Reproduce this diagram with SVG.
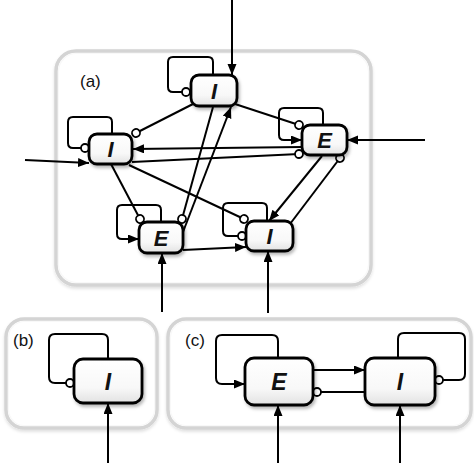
<svg xmlns="http://www.w3.org/2000/svg" width="474" height="463" viewBox="0 0 474 463">
<style>
.panel{fill:#fff;stroke:#d4d4d4;stroke-width:3.5}
.panel2{fill:none;stroke:#f8f8f8;stroke-width:1.2}
.node rect{fill:url(#ng);stroke:#000;stroke-width:2.8;filter:url(#sh)}
.node text{font-family:"Liberation Sans",Arial,sans-serif;font-weight:bold;font-style:italic;text-anchor:middle;fill:#111}
.lbl{font-family:"Liberation Sans",Arial,sans-serif;font-size:17px;fill:#111}
.c{fill:none;stroke:#000;stroke-width:2}
.ex{marker-end:url(#arr)}
.in{marker-end:url(#inh)}
</style>
<defs>
<linearGradient id="ng" x1="0" y1="0" x2="0" y2="1">
<stop offset="0" stop-color="#ffffff"/>
<stop offset="0.65" stop-color="#f8f8f8"/>
<stop offset="1" stop-color="#e2e2e2"/>
</linearGradient>
<filter id="sh" x="-20%" y="-20%" width="150%" height="160%">
<feDropShadow dx="1.5" dy="2.5" stdDeviation="1.8" flood-color="#000" flood-opacity="0.28"/>
</filter>
<filter id="psh" x="-5%" y="-5%" width="110%" height="112%">
<feDropShadow dx="0" dy="2" stdDeviation="1.5" flood-color="#000" flood-opacity="0.12"/>
</filter>
<marker id="arr" markerUnits="userSpaceOnUse" markerWidth="12" markerHeight="10" refX="11" refY="4.5" orient="auto">
<path d="M0,0 L11,4.5 L0,9 z" fill="#000"/>
</marker>
<marker id="inh" markerUnits="userSpaceOnUse" markerWidth="12" markerHeight="12" refX="6" refY="6" orient="auto">
<circle cx="6" cy="6" r="4" fill="#fff" stroke="#000" stroke-width="1.8"/>
</marker>
</defs>

<g id="panels">
<g id="panel-a">
<rect class="panel" x="56" y="51" width="315" height="234" rx="20" filter="url(#psh)"/>
<rect class="panel2" x="58.5" y="53.5" width="310" height="229" rx="18"/>
<text class="lbl" x="80" y="87">(a)</text>
</g>
<g id="panel-b">
<rect class="panel" x="6" y="319" width="151" height="109" rx="18" filter="url(#psh)"/>
<rect class="panel2" x="8.5" y="321.5" width="146" height="104" rx="16"/>
<text class="lbl" x="13" y="346">(b)</text>
</g>
<g id="panel-c">
<rect class="panel" x="168" y="319" width="303" height="109" rx="18" filter="url(#psh)"/>
<rect class="panel2" x="170.5" y="321.5" width="298" height="104" rx="16"/>
<text class="lbl" x="185" y="346">(c)</text>
</g>
</g>

<g id="connectors">
<!-- self loops (a) -->
<path class="c in" d="M213,75 V62 Q213,57 208,57 H173 Q168,57 168,62 V87 Q168,92 173,92 H186"/>
<path class="c in" d="M112,134 V122 Q112,117 107,117 H73 Q68,117 68,122 V143 Q68,148 73,148 H85"/>
<path class="c ex" d="M323,125 V113 Q323,108 318,108 H284 Q279,108 279,113 V135 Q279,140 284,140 H302"/>
<path class="c ex" d="M161,222 V210 Q161,205 156,205 H122 Q117,205 117,210 V234 Q117,239 122,239 H139"/>
<path class="c in" d="M267,221 V208 Q267,203 262,203 H228 Q223,203 223,208 V231 Q223,236 228,236 H242"/>
<!-- edges (a) -->
<path class="c in" d="M193,104 L136,133"/>
<path class="c in" d="M235,104 L299,125"/>
<path class="c ex" d="M302,147 L133,149"/>
<path class="c in" d="M132,162 L299,154"/>
<path class="c in" d="M111,164 L140,219"/>
<path class="c in" d="M129,165 L244,219"/>
<path class="c in" d="M213,107 L182,219"/>
<path class="c ex" d="M183,232 L231,107"/>
<path class="c ex" d="M322,156 L269,221"/>
<path class="c in" d="M290,224 L340,158"/>
<path class="c ex" d="M183,250 L246,247"/>
<!-- inputs (a) -->
<path class="c ex" d="M232,0 V75"/>
<path class="c ex" d="M25,160 L89,163"/>
<path class="c ex" d="M425,140 H347"/>
<path class="c ex" d="M162,312 V253"/>
<path class="c ex" d="M268,313 V251"/>
<!-- (b) -->
<path class="c in" d="M108,359 V340 Q108,334 102,334 H55 Q49,334 49,340 V377 Q49,383 55,383 H70"/>
<path class="c ex" d="M108,463 V403"/>
<!-- (c) -->
<path class="c ex" d="M278,358 V341 Q278,335 272,335 H222 Q216,335 216,341 V378 Q216,384 222,384 H245"/>
<path class="c in" d="M398,358 V339 Q398,333 404,333 H459 Q465,333 465,339 V374 Q465,380 459,380 H439"/>
<path class="c ex" d="M313,370 H365"/>
<path class="c in" d="M365,392 H317"/>
<path class="c ex" d="M278,463 V405"/>
<path class="c ex" d="M400,463 V405"/>
</g>

<g id="node-a-I-top" class="node"><rect x="191" y="75" width="46" height="31" rx="8"/><text x="214" y="99" font-size="22">I</text></g>
<g id="node-a-I-left" class="node"><rect x="89" y="134" width="43" height="30" rx="8"/><text x="110.5" y="157" font-size="22">I</text></g>
<g id="node-a-E-right" class="node"><rect x="302" y="125" width="45" height="30" rx="8"/><text x="324.5" y="148" font-size="22">E</text></g>
<g id="node-a-E-bottom" class="node"><rect x="139" y="222" width="44" height="31" rx="8"/><text x="161" y="246" font-size="22">E</text></g>
<g id="node-a-I-bottom" class="node"><rect x="246" y="221" width="47" height="30" rx="8"/><text x="269.5" y="244" font-size="22">I</text></g>
<g id="node-b-I" class="node"><rect x="74" y="359" width="68" height="44" rx="9"/><text x="108" y="390" font-size="23">I</text></g>
<g id="node-c-E" class="node"><rect x="245" y="358" width="68" height="47" rx="9"/><text x="279" y="390" font-size="23">E</text></g>
<g id="node-c-I" class="node"><rect x="365" y="358" width="70" height="47" rx="9"/><text x="400" y="390" font-size="23">I</text></g>
</svg>
